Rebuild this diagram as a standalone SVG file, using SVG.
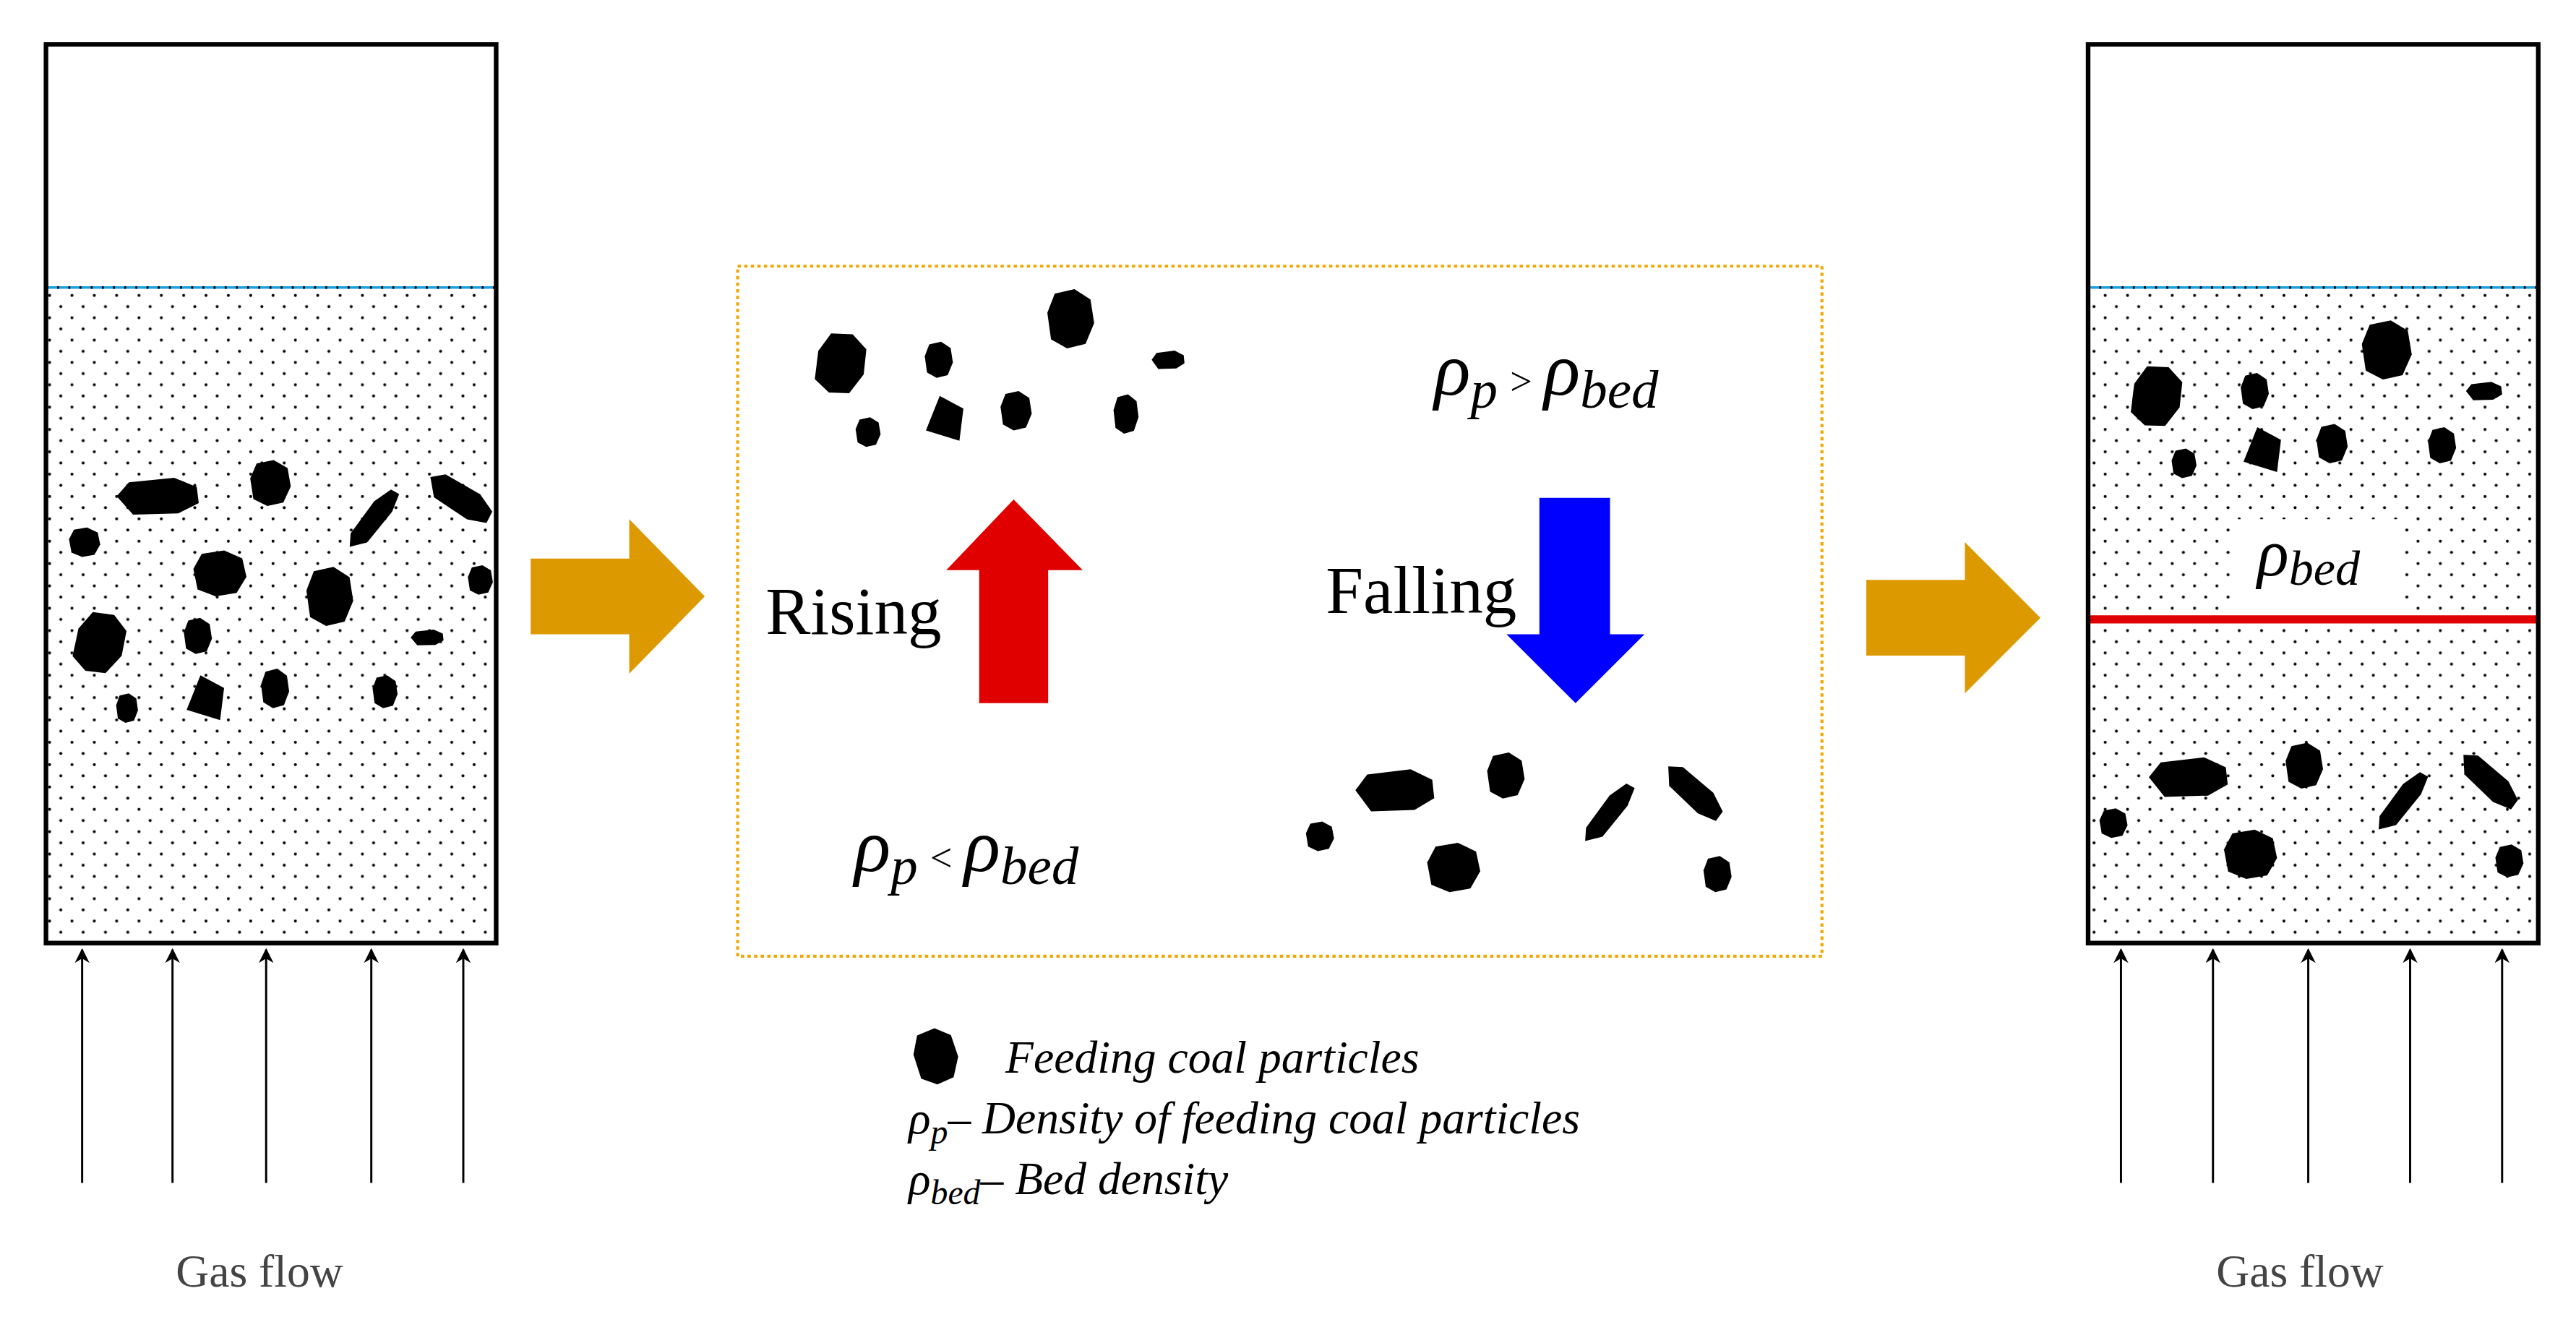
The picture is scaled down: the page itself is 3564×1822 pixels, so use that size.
<svg xmlns="http://www.w3.org/2000/svg" xmlns:xlink="http://www.w3.org/1999/xlink" width="3564" height="1822" viewBox="0 0 3564 1822">
<style>
.box{fill:none;stroke:#000;stroke-width:2.8}
.flow{stroke:#000;stroke-width:1.3;fill:none}
.gas{font-family:"Liberation Serif",serif;font-size:28px;fill:#444}
.it{font-family:"Liberation Serif",serif;font-style:italic;fill:#000}
.big{font-family:"Liberation Serif",serif;font-size:41px;fill:#000}
.p{fill:#000}
</style>
<defs>
<pattern id="dots" patternUnits="userSpaceOnUse" width="13.6" height="13.6">
<circle cx="3" cy="3" r="0.9" fill="#000"/><circle cx="9.8" cy="9.8" r="0.9" fill="#000"/>
</pattern>
<marker id="ah" viewBox="0 0 10 10" refX="9" refY="5" markerWidth="9" markerHeight="9" orient="auto" markerUnits="userSpaceOnUse"><path d="M0,0 L10,5 L0,10 L3,5 Z" fill="#000"/></marker>
<path id="r" d="M-0.9,-0.2 L-0.6,-0.85 L0.2,-1 L0.85,-0.65 L1,0.15 L0.65,0.85 L-0.1,1 L-0.75,0.7 Z"/>
<path id="e" d="M-1,0 L-0.7,-0.6 L0.4,-0.8 L0.95,-0.4 L1,0.3 L0.5,0.75 L-0.6,0.8 Z"/>
<path id="q" d="M-0.25,-1 L0.95,-0.45 L0.75,0.95 L-0.95,0.5 Z"/>
</defs>
<g transform="scale(2.273)">
<g id="left-reactor">
<rect x="28" y="175" width="274" height="399" fill="url(#dots)"/>
<line x1="28" y1="175" x2="302" y2="175" stroke="#1aa0e0" stroke-width="1.6"/>
<line x1="28" y1="175" x2="302" y2="175" stroke="#000" stroke-width="1.6" stroke-dasharray="1.2 5.6"/>
<rect class="box" x="28" y="27" width="274" height="547"/>
<g class="p">
<use href="#e" transform="translate(96,302) scale(25,14)"/>
<use href="#r" transform="translate(164,294) scale(13,14)"/>
<use href="#e" transform="translate(280,303) rotate(35) scale(22,11)"/>
<use href="#e" transform="translate(227,316) rotate(-50) scale(22,8)"/>
<use href="#r" transform="translate(51,330) scale(10,9)"/>
<use href="#r" transform="translate(133,349) scale(17,14)"/>
<use href="#r" transform="translate(200,363) scale(15,18)"/>
<use href="#r" transform="translate(60,391) rotate(20) scale(16,19)"/>
<use href="#r" transform="translate(120,387) scale(9,11)"/>
<use href="#r" transform="translate(292,353) scale(8,9)"/>
<use href="#e" transform="translate(260,388) scale(10,6)"/>
<use href="#q" transform="translate(125,425) scale(12,14)"/>
<use href="#r" transform="translate(167,419) scale(9,12)"/>
<use href="#r" transform="translate(234,421) scale(8,10)"/>
<use href="#r" transform="translate(77,431) scale(7,9)"/>
</g>
</g>
<g id="left-gas">
<line class="flow" x1="50" y1="720" x2="50" y2="578" marker-end="url(#ah)"/>
<line class="flow" x1="105" y1="720" x2="105" y2="578" marker-end="url(#ah)"/>
<line class="flow" x1="162" y1="720" x2="162" y2="578" marker-end="url(#ah)"/>
<line class="flow" x1="226" y1="720" x2="226" y2="578" marker-end="url(#ah)"/>
<line class="flow" x1="282" y1="720" x2="282" y2="578" marker-end="url(#ah)"/>
<text class="gas" x="107" y="783">Gas flow</text>
</g>
<g id="arrow1"><path d="M323,340 H383 V316 L429,363 L383,410 V386 H323 Z" fill="#DD9A00"/></g>
<g id="middle">
<rect x="449" y="162" width="660" height="420" fill="none" stroke="#F0A800" stroke-width="1.8" stroke-dasharray="2 2"/>
<g class="p">
<use href="#r" transform="translate(511,221) rotate(15) scale(16,19)"/>
<use href="#r" transform="translate(571,219) scale(9,11)"/>
<use href="#r" transform="translate(651,194) scale(15,18)"/>
<use href="#e" transform="translate(711,219) scale(10,7)"/>
<use href="#r" transform="translate(528,263) scale(8,9)"/>
<use href="#q" transform="translate(575,255) scale(12,14)"/>
<use href="#r" transform="translate(618,250) scale(10,12)"/>
<use href="#r" transform="translate(685,252) scale(8,12)"/>
<use href="#e" transform="translate(849,481) scale(24,16)"/>
<use href="#r" transform="translate(916,472) scale(12,14)"/>
<use href="#e" transform="translate(979,495) rotate(-50) scale(22,8)"/>
<use href="#e" transform="translate(1031,482) rotate(45) scale(22,10)"/>
<use href="#r" transform="translate(803,509) scale(9,9)"/>
<use href="#r" transform="translate(884,528) scale(17,15)"/>
<use href="#r" transform="translate(1045,532) scale(9,11)"/>
</g>
<path d="M596,428 V347 H576 L617,304 L659,347 H638 V428 Z" fill="#E00000"/>
<path d="M937,303 V386 H917 L959,428 L1001,386 H980 V303 Z" fill="#0000FF"/>
<text class="big" x="466" y="386">Rising</text>
<text class="big" x="807" y="373">Falling</text>
<text class="it" x="873" y="240" font-size="46">ρ<tspan font-size="33" dy="8">p</tspan><tspan font-size="24" dy="-8"> &gt; </tspan>ρ<tspan font-size="33" dy="8">bed</tspan></text>
<text class="it" x="520" y="530" font-size="46">ρ<tspan font-size="33" dy="8">p</tspan><tspan font-size="24" dy="-8"> &lt; </tspan>ρ<tspan font-size="33" dy="8">bed</tspan></text>
</g>
<g id="arrow2"><path d="M1136,353 H1196 V330 L1242,376 L1196,422 V399 H1136 Z" fill="#DD9A00"/></g>
<g id="right-reactor">
<rect x="1271" y="175" width="274" height="399" fill="url(#dots)"/>
<rect x="1360" y="316" width="102" height="58" fill="#fff"/>
<line x1="1271" y1="175" x2="1545" y2="175" stroke="#1aa0e0" stroke-width="1.6"/>
<line x1="1271" y1="175" x2="1545" y2="175" stroke="#000" stroke-width="1.6" stroke-dasharray="1.2 5.6"/>
<line x1="1271" y1="377" x2="1545" y2="377" stroke="#E00000" stroke-width="5"/>
<rect class="box" x="1271" y="27" width="274" height="547"/>
<text class="it" x="1374" y="350" font-size="40">ρ<tspan font-size="30" dy="6">bed</tspan></text>
<g class="p">
<use href="#r" transform="translate(1312,241) rotate(15) scale(16,19)"/>
<use href="#r" transform="translate(1372,238) scale(9,11)"/>
<use href="#r" transform="translate(1452,213) scale(16,18)"/>
<use href="#e" transform="translate(1512,238) scale(11,7)"/>
<use href="#r" transform="translate(1329,282) scale(8,9)"/>
<use href="#q" transform="translate(1377,274) scale(12,14)"/>
<use href="#r" transform="translate(1419,270) scale(10,12)"/>
<use href="#r" transform="translate(1486,271) scale(9,11)"/>
<use href="#e" transform="translate(1332,473) scale(24,15)"/>
<use href="#r" transform="translate(1402,466) scale(12,14)"/>
<use href="#e" transform="translate(1462,488) rotate(-50) scale(22,8)"/>
<use href="#e" transform="translate(1515,475) rotate(45) scale(22,10)"/>
<use href="#r" transform="translate(1286,501) scale(9,9)"/>
<use href="#r" transform="translate(1369,520) scale(17,15)"/>
<use href="#r" transform="translate(1527,524) scale(9,10)"/>
</g>
</g>
<g id="right-gas">
<line class="flow" x1="1291" y1="720" x2="1291" y2="578" marker-end="url(#ah)"/>
<line class="flow" x1="1347" y1="720" x2="1347" y2="578" marker-end="url(#ah)"/>
<line class="flow" x1="1405" y1="720" x2="1405" y2="578" marker-end="url(#ah)"/>
<line class="flow" x1="1467" y1="720" x2="1467" y2="578" marker-end="url(#ah)"/>
<line class="flow" x1="1523" y1="720" x2="1523" y2="578" marker-end="url(#ah)"/>
<text class="gas" x="1349" y="783">Gas flow</text>
</g>
<g id="legend">
<use href="#r" class="p" transform="translate(569,643) rotate(-10) scale(14,17)"/>
<text class="it" x="612" y="653" font-size="28">Feeding coal particles</text>
<text class="it" x="553" y="690" font-size="28">ρ<tspan font-size="21" dy="6">p</tspan><tspan dy="-6">– Density of feeding coal particles</tspan></text>
<text class="it" x="553" y="727" font-size="28">ρ<tspan font-size="21" dy="6">bed</tspan><tspan dy="-6">– Bed density</tspan></text>
</g>
</g>
</svg>
